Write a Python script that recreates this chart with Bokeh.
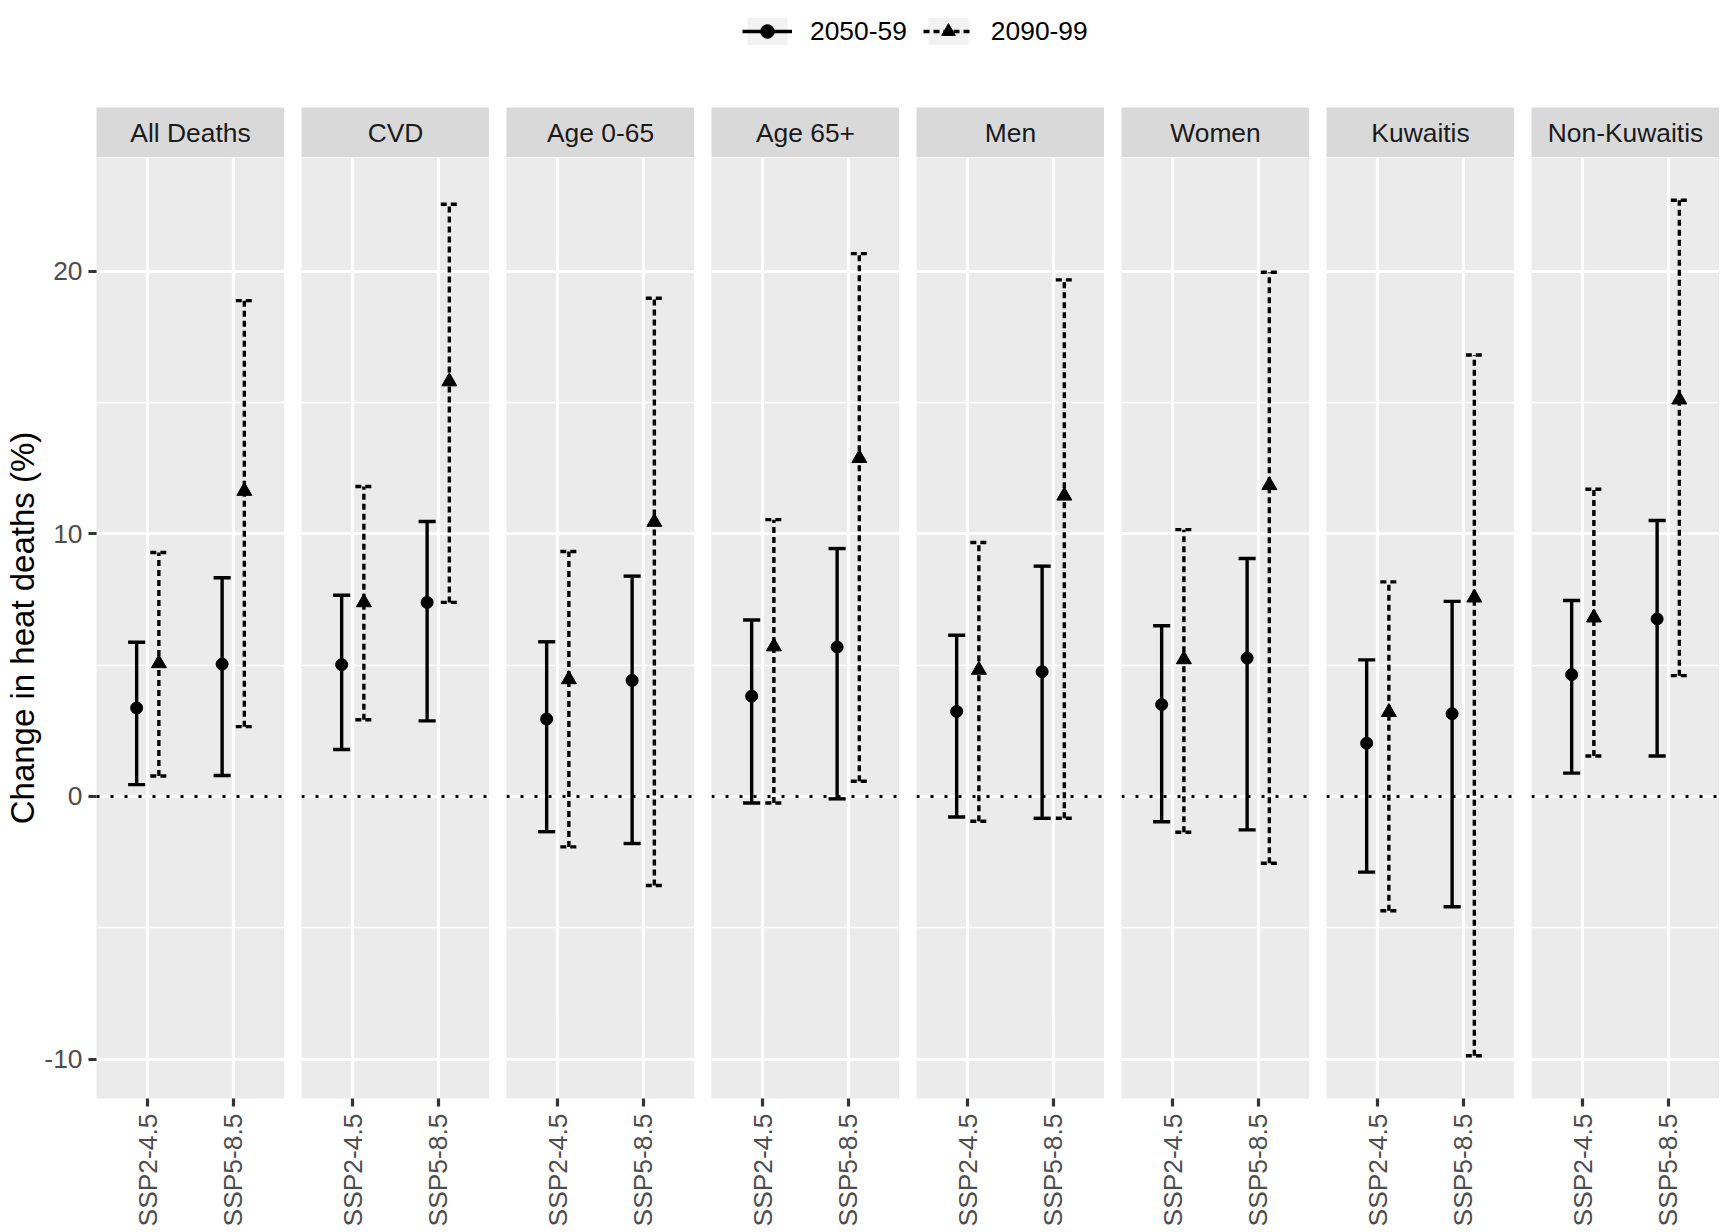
import math
from bokeh.plotting import figure
from bokeh.models import (ColumnDataSource, FactorRange, Range1d, FixedTicker,
                          Label, Legend, LegendItem, Span)
from bokeh.layouts import row, column
from bokeh.transform import dodge
from bokeh.embed import file_html
from bokeh.resources import INLINE

# ---------------- data ----------------
groups = ["All Deaths", "CVD", "Age 0-65", "Age 65+", "Men", "Women", "Kuwaitis", "Non-Kuwaitis"]
scenarios = ["SSP2-4.5", "SSP5-8.5"]
periods = ["2050-59", "2090-99"]

# 2050-59
est_2050_ssp245 = [3.37, 5.02, 2.95, 3.82, 3.24, 3.50, 2.03, 4.64]
lo_2050_ssp245 = [0.45, 1.79, -1.34, -0.25, -0.78, -0.96, -2.88, 0.89]
hi_2050_ssp245 = [5.87, 7.66, 5.89, 6.72, 6.14, 6.50, 5.20, 7.46]
est_2050_ssp585 = [5.04, 7.39, 4.42, 5.69, 4.75, 5.27, 3.15, 6.76]
lo_2050_ssp585 = [0.80, 2.88, -1.79, -0.09, -0.83, -1.27, -4.20, 1.54]
hi_2050_ssp585 = [8.33, 10.47, 8.39, 9.44, 8.77, 9.06, 7.43, 10.51]

# 2090-99
est_2090_ssp245 = [5.07, 7.39, 4.46, 5.71, 4.82, 5.22, 3.21, 6.81]
lo_2090_ssp245 = [0.78, 2.92, -1.92, -0.25, -0.94, -1.36, -4.35, 1.54]
hi_2090_ssp245 = [9.29, 11.80, 9.33, 10.54, 9.67, 10.16, 8.17, 11.70]
est_2090_ssp585 = [11.63, 15.80, 10.45, 12.88, 11.45, 11.85, 7.57, 15.11]
lo_2090_ssp585 = [2.66, 7.39, -3.39, 0.58, -0.83, -2.54, -9.87, 4.60]
hi_2090_ssp585 = [18.88, 22.55, 18.97, 20.67, 19.67, 19.96, 16.81, 22.70]

y_ticks = [-10, 0, 10, 20]
y_minor_ticks = [-5, 5, 15]
y_tick_labels = ["-10", "0", "10", "20"]
reference_y = 0
y_title = "Change in heat deaths (%)"

# ---------------- style ----------------
FONT = "Liberation Sans"
PANEL_W = 188
GAP = 17
LEFT = 96
STRIP_H = 50
FRAME_H = 941
BOTTOM = 134
LEGEND_H = 107
LW = 3.4
DASH = "6 4"
OFF = 0.13
CAP = 0.1

all_lo = lo_2050_ssp245 + lo_2050_ssp585 + lo_2090_ssp245 + lo_2090_ssp585
all_hi = hi_2050_ssp245 + hi_2050_ssp585 + hi_2090_ssp245 + hi_2090_ssp585
ymin, ymax = min(all_lo), max(all_hi)
pad = 0.05 * (ymax - ymin)
y_range = Range1d(ymin - pad, ymax + pad)

series = [
    dict(period="2050-59", off=-OFF, dash="solid", marker="circle", size=12,
         est=(est_2050_ssp245, est_2050_ssp585), lo=(lo_2050_ssp245, lo_2050_ssp585),
         hi=(hi_2050_ssp245, hi_2050_ssp585)),
    dict(period="2090-99", off=OFF, dash=DASH, marker="triangle", size=15,
         est=(est_2090_ssp245, est_2090_ssp585), lo=(lo_2090_ssp245, lo_2090_ssp585),
         hi=(hi_2090_ssp245, hi_2090_ssp585)),
]

cols = []
for i, g in enumerate(groups):
    first = i == 0
    w = PANEL_W + (LEFT if first else 0)

    # strip
    s = figure(width=w, height=STRIP_H, x_range=Range1d(0, 1), y_range=Range1d(0, 1),
               output_backend="svg", toolbar_location=None,
               x_axis_location=None, y_axis_location=None,
               min_border_left=LEFT if first else 0, min_border_right=0,
               min_border_top=0, min_border_bottom=0,
               background_fill_color="#D9D9D9", border_fill_color="white",
               outline_line_color=None)
    s.grid.visible = False
    s.add_layout(Label(x=0.5, y=0.5, text=g, text_align="center", text_baseline="middle",
                       text_font=FONT, text_font_size="26.4px", text_color="#1A1A1A"))

    # panel
    p = figure(width=w, height=FRAME_H + BOTTOM,
               x_range=FactorRange(factors=scenarios, range_padding=0.1),
               y_range=y_range, output_backend="svg", toolbar_location=None,
               y_axis_location="left" if first else None,
               min_border_left=LEFT if first else 0, min_border_right=0,
               min_border_top=0, min_border_bottom=BOTTOM,
               background_fill_color="#EBEBEB", border_fill_color="white",
               outline_line_color=None)
    p.xgrid.grid_line_color = "white"
    p.xgrid.grid_line_width = 3.2
    p.ygrid.ticker = FixedTicker(ticks=y_ticks, minor_ticks=y_minor_ticks)
    p.ygrid.grid_line_color = "white"
    p.ygrid.grid_line_width = 3.2
    p.ygrid.minor_grid_line_color = "white"
    p.ygrid.minor_grid_line_width = 1.6

    xa = p.xaxis[0]
    xa.axis_line_color = None
    xa.major_tick_line_color = "#333333"
    xa.major_tick_line_width = 3.2
    xa.major_tick_out = 8
    xa.major_tick_in = 0
    xa.minor_tick_line_color = None
    xa.major_label_orientation = math.pi / 2
    xa.major_label_text_font = FONT
    xa.major_label_text_font_size = "26.4px"
    xa.major_label_text_color = "#4D4D4D"
    xa.major_label_standoff = 7

    if first:
        ya = p.yaxis[0]
        ya.ticker = FixedTicker(ticks=y_ticks)
        ya.major_label_overrides = {t: l for t, l in zip(y_ticks, y_tick_labels)}
        ya.axis_line_color = None
        ya.major_tick_line_color = "#333333"
        ya.major_tick_line_width = 3.2
        ya.major_tick_out = 8
        ya.major_tick_in = 0
        ya.minor_tick_line_color = None
        ya.major_label_text_font = FONT
        ya.major_label_text_font_size = "26.4px"
        ya.major_label_text_color = "#4D4D4D"
        ya.major_label_standoff = 6
        ya.axis_label = y_title
        ya.axis_label_text_font = FONT
        ya.axis_label_text_font_size = "33px"
        ya.axis_label_text_font_style = "normal"
        ya.axis_label_text_color = "black"
        ya.axis_label_standoff = 0

    p.add_layout(Span(location=reference_y, dimension="width", line_color="black",
                      line_width=3, line_dash="3 11"))

    for sr in series:
        src = ColumnDataSource(dict(
            scen=scenarios,
            mid=[sr["est"][0][i], sr["est"][1][i]],
            lo=[sr["lo"][0][i], sr["lo"][1][i]],
            hi=[sr["hi"][0][i], sr["hi"][1][i]],
        ))
        off = sr["off"]
        p.segment(x0=dodge("scen", off, range=p.x_range), y0="lo",
                  x1=dodge("scen", off, range=p.x_range), y1="hi",
                  source=src, line_color="black", line_width=LW, line_dash=sr["dash"])
        for end in ("hi", "lo"):
            p.segment(x0=dodge("scen", off - CAP, range=p.x_range), y0=end,
                      x1=dodge("scen", off + CAP, range=p.x_range), y1=end,
                      source=src, line_color="black", line_width=LW, line_dash=sr["dash"])
        p.scatter(x=dodge("scen", off, range=p.x_range), y="mid", marker=sr["marker"],
                  size=sr["size"], fill_color="black", line_color="black", source=src)

    cols.append(column([s, p], spacing=0))

# ---------------- legend ----------------
lf = figure(width=1725, height=LEGEND_H, x_range=Range1d(0, 1), y_range=Range1d(0, 1),
            output_backend="svg", toolbar_location=None,
            x_axis_location=None, y_axis_location=None,
            min_border_left=0, min_border_right=0, min_border_top=0, min_border_bottom=0,
            outline_line_color=None, background_fill_color="white", border_fill_color="white")
lf.grid.visible = False
nan = float("nan")
items = []
for sr in series:
    key_src = ColumnDataSource(dict(x=[nan], y=[nan]))
    bg = lf.quad(left="x", right="x", top="y", bottom="y", source=key_src,
                 fill_color="#F2F2F2", line_color=None)
    ln = lf.line(x="x", y="y", source=key_src, line_color="black", line_width=LW,
                 line_dash=sr["dash"])
    mk = lf.scatter(x="x", y="y", source=key_src, marker=sr["marker"],
                    fill_color="black", line_color="black")
    items.append(LegendItem(label=sr["period"], renderers=[bg, ln, mk]))
legend = Legend(items=items, orientation="horizontal", location=(742, 59),
                glyph_width=50, glyph_height=34, label_standoff=18, spacing=16,
                padding=0, margin=0, border_line_color=None, background_fill_alpha=0,
                label_text_font=FONT, label_text_font_size="26.4px", label_text_color="black")
lf.add_layout(legend, "center")

layout = column([lf, row(cols, spacing=GAP)], spacing=0)

open("out.html", "w").write(file_html(layout, INLINE, title="Heat deaths"))
